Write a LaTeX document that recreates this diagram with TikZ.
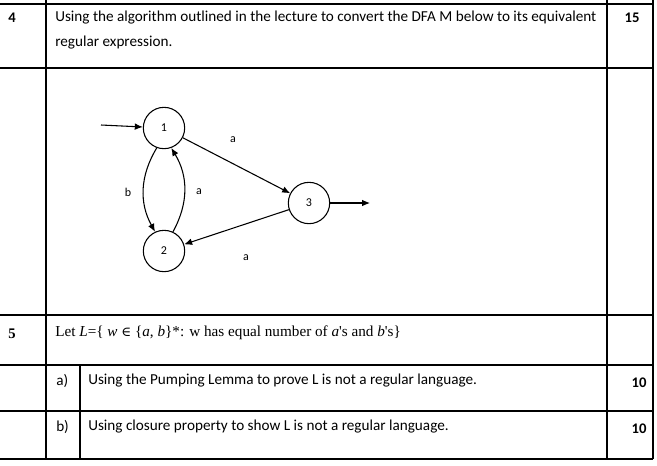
\documentclass[tikz,border=0pt]{standalone}
\usepackage{fontspec}
\setmainfont{Carlito}
\newfontfamily\timesf{Liberation Serif}
\newfontfamily\djf{DejaVu Serif}
\usetikzlibrary{arrows.meta}
\begin{document}
\begin{tikzpicture}[x=0.75pt,y=-0.75pt,
  st/.style={circle,draw,line width=0.8pt,minimum size=31pt,inner sep=0pt,font=\fontsize{9}{11}\selectfont},
  tr/.style={-{Latex[length=6pt,width=5pt]},line width=0.8pt},
  lab/.style={font=\fontsize{9}{11}\selectfont},
  txt/.style={anchor=west,inner sep=0pt,font=\fontsize{11.4}{13}\selectfont},
  num/.style={inner sep=0pt,font=\bfseries\fontsize{11}{13}\selectfont}]
\useasboundingbox (0,0) rectangle (657,465);
\begin{scope}[line width=0.8pt]
\foreach \y in {4,68,315,365,411,459} \draw (0,\y) -- (653,\y);
\draw (46,0) -- (46,459);
\draw (607,0) -- (607,459);
\draw (653,0) -- (653,459);
\draw (80,365) -- (80,459);
\end{scope}
\node[num] (n4) at (12,18) {4};
\node[num] (n15) at (632,18) {15};
\node[txt] (t1) at (55,18) {Using the algorithm outlined in the lecture to convert the DFA M below to its equivalent};
\node[txt] (t2) at (55,43) {regular expression.};
\node[num,font=\timesf\bfseries\fontsize{11}{13}\selectfont] (n5) at (12,334) {5};
\node[txt,font=\timesf\fontsize{11.4}{13}\selectfont] (t5) at (55,333) {Let \textit{L}=\{ \textit{w} {\djf\fontsize{10}{12}\selectfont ∈} \{\textit{a}, \textit{b}\}*: w has equal number of \textit{a}'s and \textit{b}'s\}};
\node[txt] (ta) at (56,381) {a)};
\node[txt] (tat) at (88,381) {Using the Pumping Lemma to prove L is not a regular language.};
\node[num] (n10a) at (639,383) {10};
\node[txt] (tb) at (56,427) {b)};
\node[txt] (tbt) at (88,427) {Using closure property to show L is not a regular language.};
\node[num] (n10b) at (639,429) {10};
% DFA
\node[st] (q1) at (164,128) {1};
\node[st] (q2) at (164,251) {2};
\node[st] (q3) at (309,203) {3};
\coordinate (ini) at (101,125);
\coordinate (fin) at (370,203);
\draw[tr] (ini) -- (q1);
\draw[tr] (q3) -- (fin);
\draw[tr] (q1) -- (q3);
\draw[tr] (q3) -- (q2);
\draw[tr] (q1.250) to[bend right=30] (q2.115);
\draw[tr] (q2.65) to[bend right=30] (q1.290);
\node[lab] (la1) at (233,140) {a};
\node[lab] (la2) at (246,258) {a};
\node[lab] (lb) at (128,192) {b};
\node[lab] (la3) at (199,192) {a};
\end{tikzpicture}
\end{document}
